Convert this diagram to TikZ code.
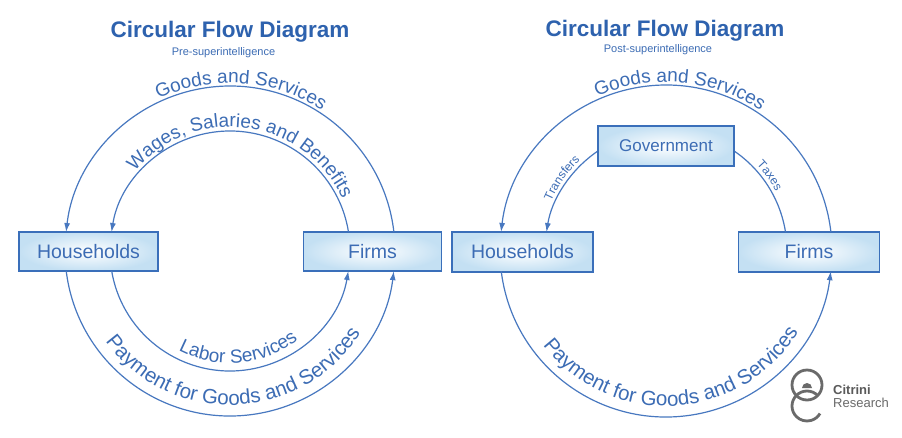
\documentclass[tikz,border=0pt]{standalone}
\usepackage{fontspec}
\setmainfont{Liberation Sans}
\usetikzlibrary{arrows.meta, decorations.text, positioning}

\definecolor{ttlblue}{HTML}{2E62AE}
\definecolor{txtblue}{HTML}{3C6CB4}
\definecolor{lnblue}{HTML}{4878C0}
\definecolor{bxline}{HTML}{3A6FBA}
\definecolor{bxfill}{HTML}{C4E0F3}
\definecolor{logogray}{HTML}{6A6A6A}

\newcommand{\flowfont}{\fontsize{19}{22}\selectfont}
\newcommand{\payfont}{\fontsize{20.5}{24}\selectfont}
\newcommand{\tinyflowfont}{\fontsize{12}{14}\selectfont}

\tikzset{
  box/.style={draw=bxline, line width=1.6pt, inner color=white, outer color=bxfill,
    text=txtblue, minimum height=39pt, inner sep=0pt, font=\fontsize{19.5}{22}\selectfont},
  flow/.style={lnblue, line width=1.2pt},
  tip/.style={-{Latex[length=9pt,width=6pt]}},
  ttl/.style={text=ttlblue, anchor=base, font=\bfseries\fontsize{22.5}{26}\selectfont},
  sub/.style={text=txtblue, anchor=base, font=\fontsize{11}{13}\selectfont},
  arclbl/.style={decorate, decoration={text along path, text align=center,
    text color=txtblue, text={#1}}},
}

\begin{document}
\begin{tikzpicture}[x=1pt, y=1pt]
  \fill[white] (0,0) rectangle (902,-437);
  \useasboundingbox (0,0) rectangle (902,-437);

  % pre-superintelligence
  \coordinate (cA) at (230,-251);
  \node[ttl] (ttlA) at (230,-37) {Circular Flow Diagram};
  \node[sub] (subA) at (223.5,-55) {Pre-superintelligence};
  \node[box, minimum width=139pt] (hhA) at (88.5,-251.5) {Households};
  \node[box, minimum width=138pt, right=144pt of hhA] (fmA) {Firms};

  \draw[flow, tip] (cA) ++(6.6:165) arc[start angle=6.6, end angle=173.4, radius=165];
  \draw[flow, tip] (cA) ++(9.1:120) arc[start angle=9.1, end angle=170.9, radius=120];
  \draw[flow, tip] (cA) ++(189.6:120) arc[start angle=189.6, end angle=350.4, radius=120];
  \draw[flow, tip] (cA) ++(187:165) arc[start angle=187, end angle=353, radius=165];

  \path[arclbl={|\flowfont|Goods and Services}] (cA) ++(176:168) arc[start angle=176, end angle=-4, radius=168];
  \path[arclbl={|\flowfont|Wages, Salaries and Benefits}] (cA) ++(172.5:124) arc[start angle=172.5, end angle=-7.5, radius=124];
  \path[arclbl={|\flowfont|Labor Services}] (cA) ++(185:112) arc[start angle=185, end angle=365, radius=112];
  \path[arclbl={|\payfont|Payment for Goods and Services}] (cA) ++(182:154) arc[start angle=182, end angle=362, radius=154];

  % post-superintelligence
  \coordinate (cB) at (666,-251);
  \node[ttl] (ttlB) at (665,-36) {Circular Flow Diagram};
  \node[sub] (subB) at (658,-52) {Post-superintelligence};
  \node[box, minimum width=141pt, minimum height=40pt] (hhB) at (522.5,-252) {Households};
  \node[box, minimum width=141pt, minimum height=40pt, right=144pt of hhB] (fmB) {Firms};

  \draw[flow, tip] (cB) ++(6.6:166) arc[start angle=6.6, end angle=173.4, radius=166];
  \draw[flow, tip] (cB) ++(124.2:121) arc[start angle=124.2, end angle=171, radius=121];
  \draw[flow] (cB) ++(55.8:121) arc[start angle=55.8, end angle=9, radius=121];
  \draw[flow, tip] (cB) ++(187:166) arc[start angle=187, end angle=353, radius=166];
  \node[box, minimum width=136pt, minimum height=40pt, font=\fontsize{17}{20}\selectfont] (gov) at (666,-146) {Government};

  \path[arclbl={|\flowfont|Goods and Services}] (cB) ++(175:169) arc[start angle=175, end angle=-5, radius=169];
  \path[arclbl={|\tinyflowfont|Transfers}] (cB) ++(190:125) arc[start angle=190, end angle=100, radius=125];
  \path[arclbl={|\tinyflowfont|Taxes}] (cB) ++(81:125) arc[start angle=81, end angle=-9, radius=125];
  \path[arclbl={|\payfont|Payment for Goods and Services}] (cB) ++(183:155) arc[start angle=183, end angle=363, radius=155];

  % logo
  \draw[logogray, line width=2.8pt] (807,-385) circle (15);
  \fill[logogray] (802,-388) arc[start angle=180, end angle=0, radius=5] -- cycle;
  \draw[logogray, line width=2.8pt] (807,-406) ++(45:15) arc[start angle=45, end angle=330, radius=15];
  \node[anchor=base west, inner sep=0pt, text=logogray!85!black, font=\bfseries\fontsize{13}{15}\selectfont] (citA) at (833,-394) {Citrini};
  \node[anchor=base west, inner sep=0pt, text=logogray, font=\fontsize{13}{15}\selectfont] (citB) at (833,-407) {Research};
\end{tikzpicture}
\end{document}
